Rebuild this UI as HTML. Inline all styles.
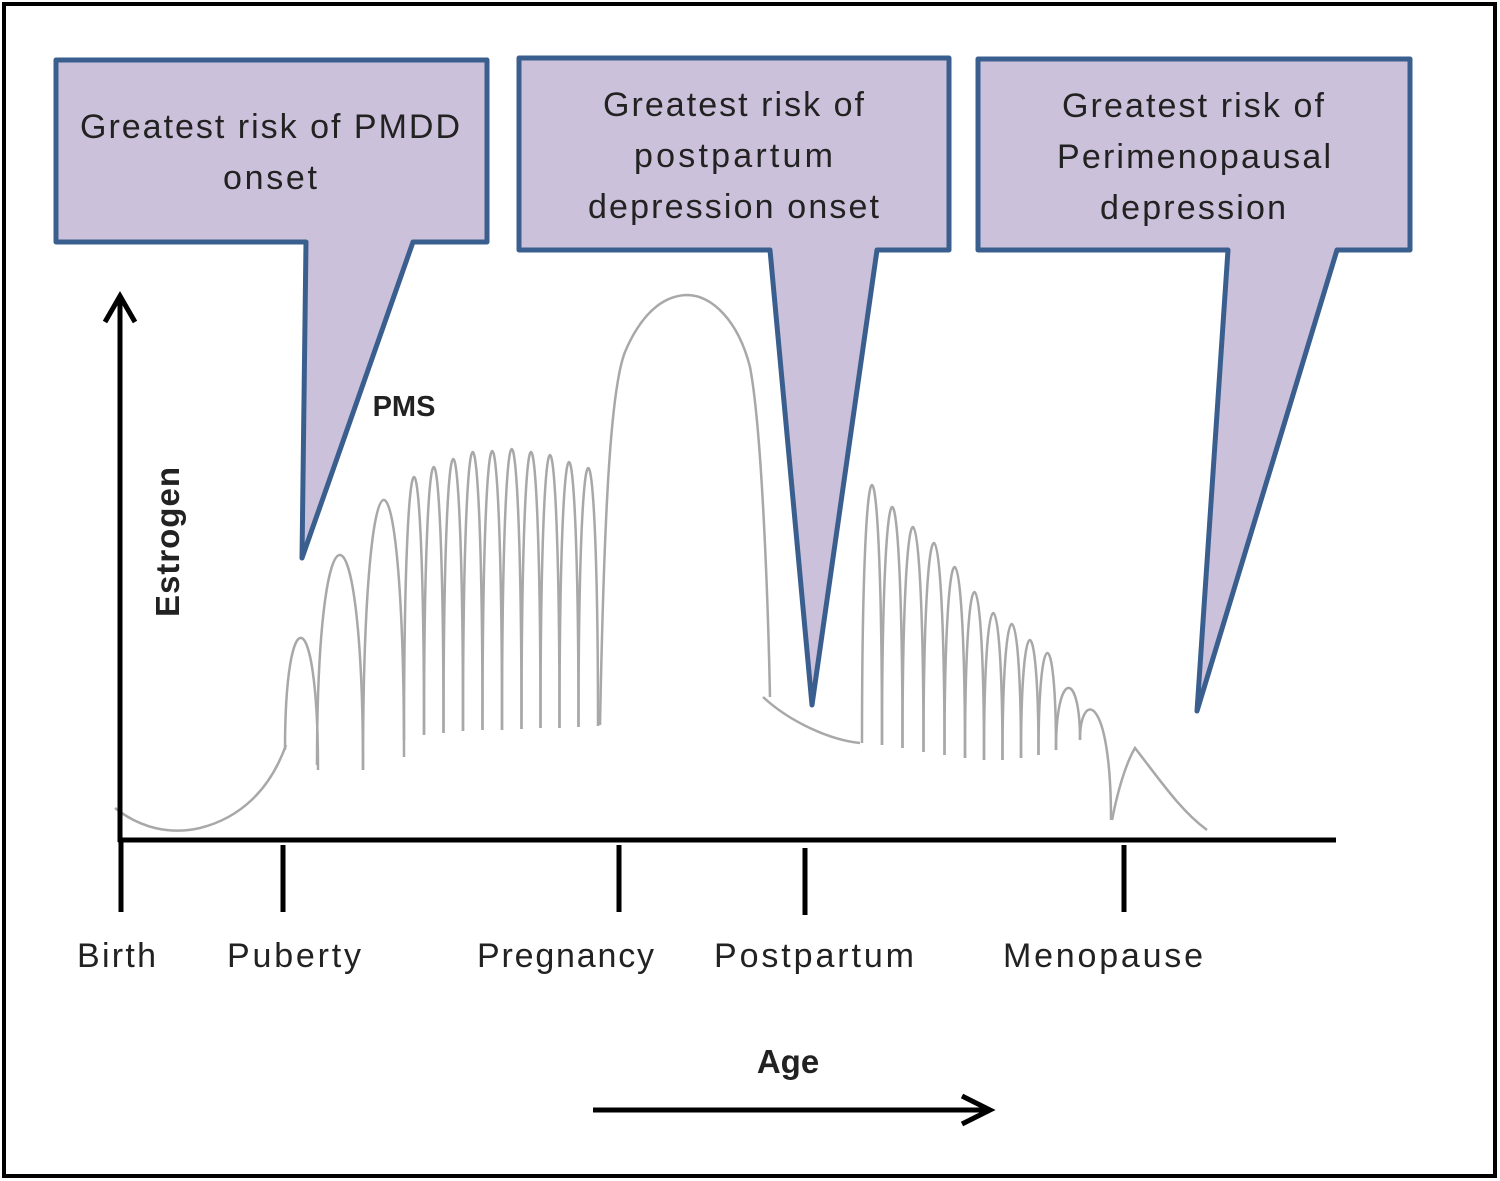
<!DOCTYPE html>
<html><head><meta charset="utf-8"><style>
html,body{margin:0;padding:0;background:#fff}
svg{display:block}
.t{font-family:"Liberation Sans",sans-serif;fill:#222}
</style></head><body>
<svg id="s" width="1500" height="1181" viewBox="0 0 1500 1181" xmlns="http://www.w3.org/2000/svg">
<rect x="4" y="4" width="1491" height="1172" fill="#fff" stroke="#000" stroke-width="4"/>
<g fill="#ccc1da" stroke="#3a5f8f" stroke-width="5" stroke-linejoin="round">
<polygon points="56,60 487,60 487,242 413,242 302,558 306,242 56,242"/>
<polygon points="519,58 949,58 949,250 877,250 812,705 770,250 519,250"/>
<polygon points="978,59 1410,59 1410,250 1337,250 1197,711 1228,250 978,250"/>
</g>
<g class="t" font-size="34" fill="#333">
<text x="80" y="138" textLength="380" lengthAdjust="spacing">Greatest risk of PMDD</text>
<text x="223" y="189" textLength="94" lengthAdjust="spacing">onset</text>
<text x="603" y="116" textLength="261" lengthAdjust="spacing">Greatest risk of</text>
<text x="634" y="167" textLength="199" lengthAdjust="spacing">postpartum</text>
<text x="588" y="218" textLength="291" lengthAdjust="spacing">depression onset</text>
<text x="1062" y="117" textLength="262" lengthAdjust="spacing">Greatest risk of</text>
<text x="1057" y="168" textLength="274" lengthAdjust="spacing">Perimenopausal</text>
<text x="1100" y="219" textLength="186" lengthAdjust="spacing">depression</text>
</g>
<g id="curve" fill="none" stroke="#a8a8a8" stroke-width="2.5">
<path d="M115,808 C140,828 170,835 200,828 C240,818 270,790 286,745"/>
<path d="M600,725 C604,520 610,390 625,352 C645,305 670,295 688,295 C712,296 738,320 750,367 C762,430 768,600 770,697"/>
<path d="M763,697 C790,722 830,740 860,743"/>
<path d="M1112,820 C1118,790 1125,765 1135,748 C1160,780 1180,810 1207,830"/>
</g>
<g stroke="#000" stroke-width="5" fill="none">
<line x1="120" y1="842" x2="120" y2="298"/>
<polyline points="105,322 120,296 135,322" stroke-linejoin="miter"/>
<line x1="118" y1="840" x2="1336" y2="840"/>
<line x1="121" y1="840" x2="121" y2="912"/>
<line x1="283" y1="845" x2="283" y2="912"/>
<line x1="619" y1="845" x2="619" y2="912"/>
<line x1="805" y1="848" x2="805" y2="915"/>
<line x1="1124" y1="845" x2="1124" y2="912"/>
<line x1="593" y1="1110" x2="990" y2="1110"/>
<polyline points="962,1096 990,1110 962,1124"/>
</g>
<g class="t" font-size="34" fill="#222">
<text x="77" y="967" textLength="79" lengthAdjust="spacing">Birth</text>
<text x="227" y="967" textLength="134" lengthAdjust="spacing">Puberty</text>
<text x="477" y="967" textLength="177" lengthAdjust="spacing">Pregnancy</text>
<text x="714" y="967" textLength="200" lengthAdjust="spacing">Postpartum</text>
<text x="1003" y="967" textLength="200" lengthAdjust="spacing">Menopause</text>
</g>
<text class="t" x="788" y="1073" font-size="33" font-weight="bold" text-anchor="middle" fill="#000">Age</text>
<text class="t" x="404" y="416" font-size="29" font-weight="bold" text-anchor="middle" fill="#000">PMS</text>
<text class="t" transform="translate(179,617) rotate(-90)" font-size="33" font-weight="bold" fill="#000" textLength="150" lengthAdjust="spacing">Estrogen</text>
</svg>
<script>
var g=document.getElementById('curve');
function arch(x0,b0,xp,p,x1,b1){
 var avg=(b0+b1)/2, c=(p-0.25*avg)/0.75;
 var d='M'+x0+','+b0+' C'+x0+','+c.toFixed(1)+' '+x1+','+c.toFixed(1)+' '+x1+','+b1;
 var e=document.createElementNS('http://www.w3.org/2000/svg','path');
 e.setAttribute('d',d);g.appendChild(e);
}
arch(285,750,313,638,318,770);
arch(317,765,340,555,363,770);
arch(363,770,384,500,404,757);
var px=[414,434,453,473,492,512,531,550,569,588];
var py=[477,467,459,452,451,449,452,455,462,468];
var bb=[740,735,733,731,730,730,729,728,728,727,726];
for(var i=0;i<px.length;i++){var x0=(i==0?404:(px[i-1]+px[i])/2),x1=(i==px.length-1?598:(px[i]+px[i+1])/2);arch(x0,bb[i],px[i],py[i],x1,bb[i+1]);}
var qx=[872,892,913,934,955,975,993,1012,1030,1047,1065,1095];
var qy=[485,507,527,543,567,592,613,624,640,653,688,713];
var qb=[743,745,748,752,755,758,760,760,758,755,750,740,820];
for(var i=0;i<qx.length;i++){var x0=(i==0?862:(qx[i-1]+qx[i])/2),x1=(i==qx.length-1?1111:(qx[i]+qx[i+1])/2);arch(x0,qb[i],qx[i],qy[i],x1,qb[i+1]);}
</script>
</body></html>
